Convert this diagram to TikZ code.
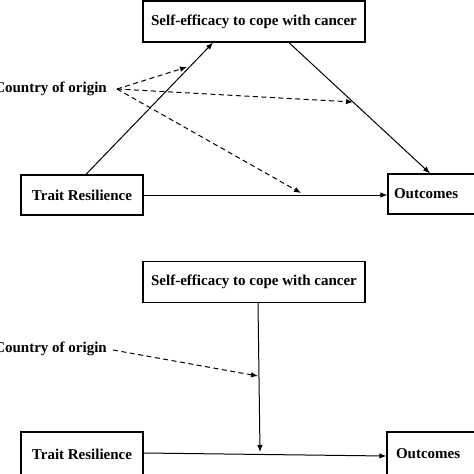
\documentclass[tikz,border=0pt]{standalone}
\usepackage{fontspec}
\setmainfont{Liberation Serif}
\usetikzlibrary{arrows.meta}
\begin{document}
\begin{tikzpicture}[x=1pt,y=-1pt,
  box/.style={draw, line width=1.3pt, inner sep=0pt, font=\bfseries\fontsize{15}{17}\selectfont},
  lbl/.style={inner sep=0pt, font=\bfseries\fontsize{15}{17}\selectfont},
  arr/.style={line width=1pt, -{Latex[length=7pt,width=5.5pt]}},
  darr/.style={arr, dash pattern=on 5pt off 3.5pt}]
\useasboundingbox (0,0) rectangle (474,474);
% top diagram
\node[box, minimum width=222pt, minimum height=41pt] (se1) at (254,21.5) {Self-efficacy to cope with cancer};
\node[box, minimum width=122pt, minimum height=40pt] (tr1) at (82,195) {Trait Resilience};
\node[box, minimum width=100pt, minimum height=40pt, text width=88pt, align=left] (oc1) at (438,194) {\hspace*{0pt}Outcomes};
\node[lbl, anchor=east] (co1) at (107,89) {Country of origin};
\coordinate (c1s) at (117,89);
\coordinate (d1) at (187,67);
\coordinate (d2) at (353,102);
\coordinate (d3) at (301,193);
\draw[arr] ([xshift=4pt]tr1.north) -- ([xshift=-41pt]se1.south);
\draw[arr] ([xshift=35pt]se1.south) -- ([xshift=-8pt]oc1.north);
\draw[arr] (tr1.east) -- ([yshift=-1pt]oc1.west);
\draw[darr] (c1s) -- (d1);
\draw[darr] (c1s) -- (d2);
\draw[darr] (c1s) -- (d3);
% bottom diagram
\node[box, minimum width=222pt, minimum height=41pt] (se2) at (254,282) {Self-efficacy to cope with cancer};
\node[box, minimum width=122pt, minimum height=44pt] (tr2) at (82,454) {Trait Resilience};
\node[box, minimum width=100pt, minimum height=44pt, text width=88pt, align=left] (oc2) at (437,454) {\hspace*{3pt}Outcomes};
\node[lbl, anchor=east] (co2) at (107,349) {Country of origin};
\coordinate (e1) at (260,452);
\coordinate (e2) at (258,376);
\draw[arr] ([xshift=4pt]se2.south) -- (e1);
\draw[arr] ([yshift=1pt]tr2.east) -- ([yshift=-2pt]oc2.west);
\draw[darr] (113,350) -- (e2);
\end{tikzpicture}
\end{document}
